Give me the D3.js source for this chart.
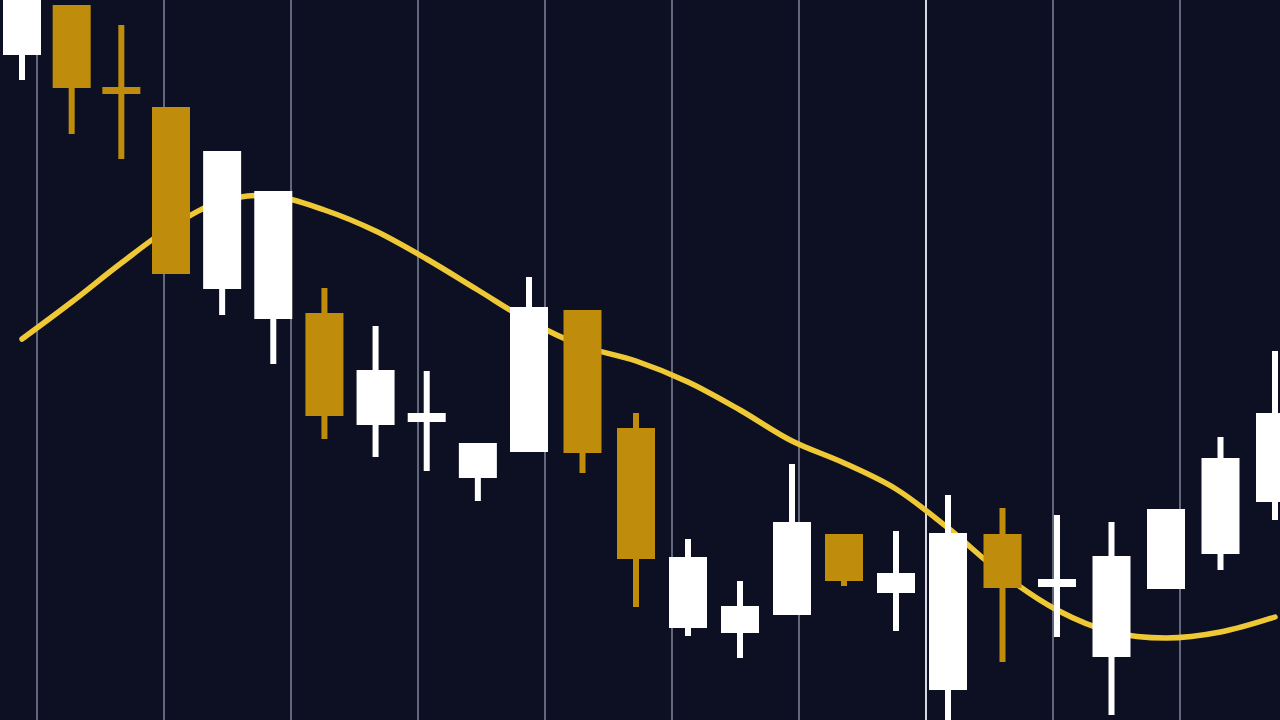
<!DOCTYPE html>
<html>
<head>
<meta charset="utf-8">
<script src="https://cdn.jsdelivr.net/npm/d3@7/dist/d3.min.js"></script>
<style>
  html, body { margin: 0; padding: 0; background: #0d1022; overflow: hidden; }
  svg { display: block; }
</style>
</head>
<body>
<svg id="chart" width="1280" height="720"></svg>
<script>
// ---- data ----
const periods = d3.range(25);
const opens  = [194.5,199.5,191.3,189.3,171.1,168.1,168.7,157.5,157.8,152.2,154.8,169.0,157.2,137.2,136.7,138.5,146.6,140.7,131.0,146.6,141.3,134.3,141.1,144.6,149.8];
const closes = [200.5,191.2,190.6,172.6,184.9,180.9,158.4,163.0,158.7,155.7,169.3,154.7,144.1,144.3,139.4,147.8,141.9,142.7,146.7,141.2,142.1,144.4,149.1,154.2,158.7];
const highs  = [201.5,199.5,197.5,189.3,184.9,180.9,171.2,167.4,162.9,155.7,172.3,169.0,158.7,146.1,141.9,153.6,146.6,146.9,150.5,149.2,148.5,147.8,149.1,156.3,164.9];
const lows   = [192.0,186.6,184.1,172.6,168.5,163.6,156.1,154.3,152.9,149.9,154.8,152.7,139.3,136.4,134.2,138.5,141.4,136.9,127.0,133.8,136.3,128.5,141.1,143.0,148.0];
const movingAvg = [166.1,169.8,173.7,177.3,179.9,180.4,179.0,176.9,174.1,171.0,167.9,165.4,163.9,161.8,159.0,155.9,153.7,151.1,147.2,142.6,139.0,136.8,136.2,136.8,138.3];
const gridSlots = d3.range(10);

// ---- layout ----
const W = 1280, H = 720;
const svg = d3.select("#chart");
svg.append("rect").attr("width", W).attr("height", H).attr("fill", "#0d1022");

const x = d3.scaleLinear().domain([0, 3, 10, 12, 18, 24]).range([22, 171, 529, 636, 948, 1275]);
const y = d3.scaleLinear().domain([128, 200]).range([720, 0]);
const gx = d3.scaleLinear().domain([0, 9]).range([37, 1180]);

const bodyW = 38, wickW = 6;
const UP = "#ffffff", DOWN = "#c08c0b";

// grid lines
svg.append("g").selectAll("line").data(gridSlots).join("line")
  .attr("x1", d => gx(d)).attr("x2", d => gx(d))
  .attr("y1", 0).attr("y2", H)
  .attr("stroke", d => d === 7 ? "#d6d9e4" : "#80849a")
  .attr("stroke-width", d => d === 7 ? 2 : 1.5);

// moving average
const line = d3.line().x((d, i) => x(i)).y(d => y(d)).curve(d3.curveCatmullRom.alpha(0.5));
svg.append("path").datum(movingAvg)
  .attr("d", line)
  .attr("fill", "none")
  .attr("stroke", "#efc835")
  .attr("stroke-width", 5.5)
  .attr("stroke-linecap", "round");

// candles
const candles = periods.map(i => ({i, o: opens[i], c: closes[i], h: highs[i], l: lows[i]}));
const g = svg.append("g").selectAll("g").data(candles).join("g");
const col = d => d.c >= d.o ? UP : DOWN;

g.append("rect")
  .attr("x", d => x(d.i) - wickW / 2)
  .attr("width", wickW)
  .attr("y", d => y(d.h))
  .attr("height", d => y(d.l) - y(d.h))
  .attr("fill", col);

g.append("rect")
  .attr("x", d => x(d.i) - bodyW / 2)
  .attr("width", bodyW)
  .attr("y", d => y(Math.max(d.o, d.c)))
  .attr("height", d => Math.max(6, Math.abs(y(d.o) - y(d.c))))
  .attr("fill", col);
</script>
</body>
</html>
